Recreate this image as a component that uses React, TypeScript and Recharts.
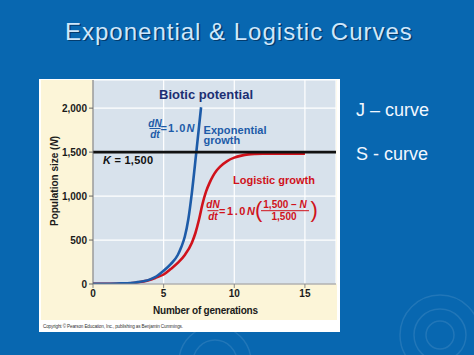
import React from 'react';
import { LineChart, Line, XAxis, YAxis, CartesianGrid, ReferenceLine } from 'recharts';

const FONT = '"Liberation Sans", Arial, Helvetica, sans-serif';

// Exponential growth (blue)
const expGen = [0, 1, 2, 3, 4, 4.5, 5, 5.5, 6, 6.25, 6.5, 6.75, 7, 7.3, 7.65];
const expN = [1, 3, 7, 18, 50, 88, 150, 225, 330, 420, 540, 740, 1040, 1480, 2010];

// Logistic growth (red)
const logGen = [0, 1, 2, 3, 4, 4.5, 5, 5.5, 6, 6.5, 7, 7.25, 7.5, 7.75, 8, 8.25, 8.5, 8.75, 9, 9.5, 10, 10.5, 11, 11.5, 12, 13, 14, 15];
const logN = [1, 2, 5, 15, 45, 75, 108, 170, 240, 330, 470, 580, 730, 910, 1050, 1150, 1230, 1290, 1335, 1398, 1437, 1460, 1474, 1480, 1483, 1483, 1483, 1483];

const xTicks = [0, 5, 10, 15];
const yTicks = [0, 500, 1000, 1500, 2000];
const carryingCapacity = 1500;

const expData = expGen.map((t, i) => ({ t, n: expN[i] }));
const logData = logGen.map((t, i) => ({ t, n: logN[i] }));

const BLUE = '#1d5ba8';
const RED = '#d0121b';
const NAVY = '#1c2f73';

const tickStyle = { fontSize: 10, fontWeight: 'bold' as const, fill: '#1a1a1a', fontFamily: FONT };

export default function App() {
  return (
    <div
      style={{
        position: 'absolute',
        left: 0,
        top: 0,
        width: 474,
        height: 355,
        background: '#0867b0',
        overflow: 'hidden',
        fontFamily: FONT,
      }}
    >
      {/* faint background swirls */}
      <svg width={474} height={355} style={{ position: 'absolute', left: 0, top: 0 }}>
        <g fill="none" stroke="#ffffff" strokeOpacity={0.1} strokeWidth={1.5}>
          <circle cx={440} cy={335} r={14} />
          <circle cx={440} cy={335} r={26} />
          <circle cx={440} cy={335} r={40} />
          <circle cx={215} cy={362} r={22} />
          <circle cx={215} cy={362} r={36} />
        </g>
      </svg>

      {/* panel */}
      <div style={{ position: 'absolute', left: 39, top: 79, width: 301, height: 253, background: '#ffffff' }} />
      <div style={{ position: 'absolute', left: 41, top: 80, width: 296, height: 240, background: '#fcf5d8' }} />

      <div style={{ position: 'absolute', left: 0, top: 0 }}>
        <LineChart
          width={474}
          height={355}
          margin={{ top: 80, right: 138, bottom: 41, left: 39 }}
        >
          <CartesianGrid fill="#d8e2ec" stroke="#ffffff" strokeWidth={1.2} />
          <XAxis
            type="number"
            dataKey="t"
            domain={[0, 17.2]}
            ticks={xTicks}
            allowDataOverflow
            height={30}
            tickSize={4}
            tickMargin={2}
            tick={tickStyle}
            axisLine={{ stroke: '#8a8a8a' }}
            tickLine={{ stroke: '#8a8a8a' }}
          />
          <YAxis
            type="number"
            domain={[0, 2320]}
            ticks={yTicks}
            allowDataOverflow
            width={54}
            tickSize={4}
            tickMargin={2}
            tick={tickStyle}
            tickFormatter={(v: number) => v.toLocaleString('en-US')}
            axisLine={{ stroke: '#666666' }}
            tickLine={{ stroke: '#666666' }}
          />
          <Line
            data={logData}
            dataKey="n"
            type="monotone"
            stroke={RED}
            strokeWidth={2.6}
            dot={false}
            isAnimationActive={false}
          />
          <Line
            data={expData}
            dataKey="n"
            type="monotone"
            stroke={BLUE}
            strokeWidth={2.6}
            dot={false}
            isAnimationActive={false}
          />
          <ReferenceLine y={carryingCapacity} stroke="#111111" strokeWidth={2.6} />
        </LineChart>
      </div>

      {/* text overlay */}
      <svg
        width={474}
        height={355}
        style={{ position: 'absolute', left: 0, top: 0, pointerEvents: 'none' }}
        fontFamily={FONT}
      >
        {/* title with shadow */}
        <text x={66.5} y={41} fontSize={24} letterSpacing={1} fill="#02325e" opacity={0.8}>
          Exponential &amp; Logistic Curves
        </text>
        <text x={65} y={39.5} fontSize={24} letterSpacing={1} fill="#cfe7fb">
          Exponential &amp; Logistic Curves
        </text>

        <text x={356} y={115.5} fontSize={18} fill="#f2f7ff">J – curve</text>
        <text x={356} y={159.5} fontSize={18} fill="#f2f7ff">S - curve</text>

        {/* axis titles */}
        <text
          x={0}
          y={0}
          transform="translate(57.5,181) rotate(-90)"
          textAnchor="middle"
          fontSize={10}
          fontWeight="bold"
          fill="#1a1a1a"
        >
          Population size (<tspan fontStyle="italic">N</tspan>)
        </text>
        <text x={205.5} y={313.5} textAnchor="middle" fontSize={10} fontWeight="bold" fill="#1a1a1a" textLength={105} lengthAdjust="spacing">
          Number of generations
        </text>

        {/* copyright */}
        <text x={43} y={328.3} fontSize={4.6} fill="#333333" textLength={140} lengthAdjust="spacing">
          Copyright © Pearson Education, Inc., publishing as Benjamin Cummings.
        </text>

        {/* Biotic potential */}
        <text x={159} y={98.5} fontSize={13} fontWeight="bold" fill={NAVY} textLength={94} lengthAdjust="spacing">
          Biotic potential
        </text>

        {/* exponential formula */}
        <g fill={BLUE} fontWeight="bold">
          <text x={155} y={126.5} fontSize={10} fontStyle="italic" textAnchor="middle">dN</text>
          <line x1={149.5} x2={160.5} y1={128.5} y2={128.5} stroke={BLUE} strokeWidth={1} />
          <text x={155} y={137.5} fontSize={10} fontStyle="italic" textAnchor="middle">dt</text>
          <text x={160.5} y={132} fontSize={11} textLength={34} lengthAdjust="spacing">
            =1.0<tspan fontStyle="italic">N</tspan>
          </text>
          <text x={203.5} y={133.5} fontSize={11} textLength={63} lengthAdjust="spacing">Exponential</text>
          <text x={203.5} y={144} fontSize={11}>growth</text>
        </g>

        {/* carrying capacity */}
        <text x={103} y={163.5} fontSize={11} fontWeight="bold" fill="#111111" textLength={50} lengthAdjust="spacing">
          <tspan fontStyle="italic">K</tspan> = 1,500
        </text>

        {/* logistic */}
        <g fill={RED} fontWeight="bold">
          <text x={233} y={183.5} fontSize={11} textLength={82} lengthAdjust="spacing">Logistic growth</text>
          <text x={213} y={207.5} fontSize={10} fontStyle="italic" textAnchor="middle">dN</text>
          <line x1={207.5} x2={218.5} y1={210.7} y2={210.7} stroke={RED} strokeWidth={1} />
          <text x={213} y={220} fontSize={10} fontStyle="italic" textAnchor="middle">dt</text>
          <text x={219} y={214.5} fontSize={11} textLength={36} lengthAdjust="spacing">
            =1.0<tspan fontStyle="italic">N</tspan>
          </text>
          <text x={255} y={217} fontSize={22} fontWeight="normal">(</text>
          <text x={285} y={207.5} fontSize={10} textAnchor="middle">
            1,500 – <tspan fontStyle="italic">N</tspan>
          </text>
          <line x1={261} x2={309} y1={210.7} y2={210.7} stroke={RED} strokeWidth={1} />
          <text x={284} y={220} fontSize={10} textAnchor="middle">1,500</text>
          <text x={310.5} y={217} fontSize={22} fontWeight="normal">)</text>
        </g>
      </svg>
    </div>
  );
}
